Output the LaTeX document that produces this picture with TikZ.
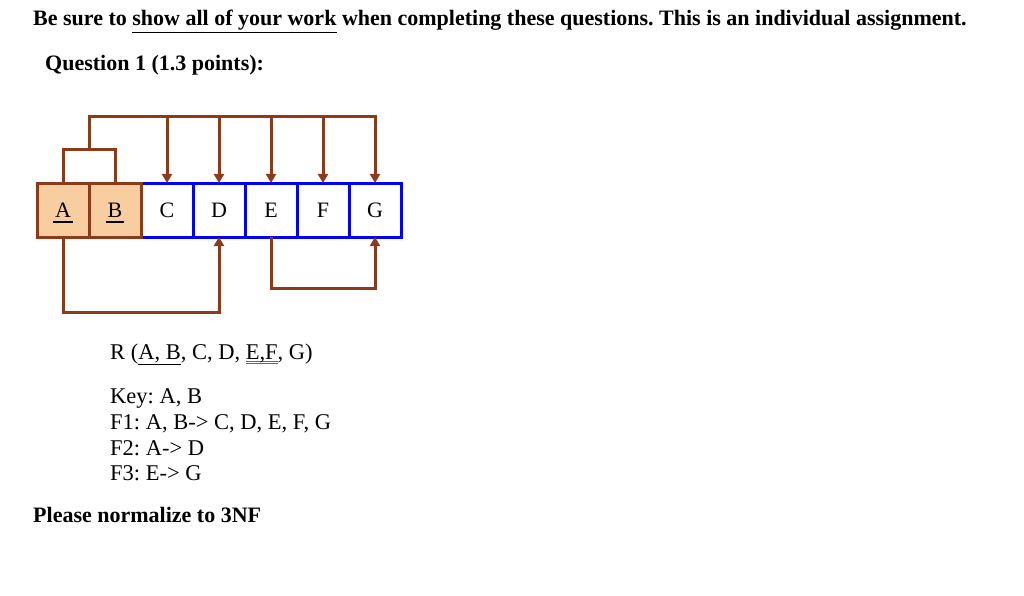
\documentclass[tikz,border=0pt]{standalone}
\usepackage{fontspec}
\setmainfont{Liberation Serif}
\usepackage{xcolor}
\usepackage{tikz}
\usetikzlibrary{arrows.meta, positioning}

\definecolor{fdbrown}{RGB}{140,58,24}
\definecolor{keyfill}{RGB}{248,206,160}
\definecolor{spellblue}{RGB}{70,100,220}

\newcommand{\spellchk}[1]{\leavevmode\setbox0\hbox{#1}%
  \rlap{\color{spellblue}\raisebox{-3pt}{\rule{\wd0}{0.6pt}}}%
  \rlap{\color{spellblue}\raisebox{-5pt}{\rule{\wd0}{0.6pt}}}\box0}
\newcommand{\keyul}[1]{\leavevmode\setbox0\hbox{#1}%
  \rlap{\smash{\hspace*{-2pt}\raisebox{-6pt}{\rule{\dimexpr\wd0+4pt\relax}{1.8pt}}}}\box0}

\frenchspacing
\begin{document}
\begin{tikzpicture}[x=1pt, y=1pt, node distance=0pt, >={Triangle[width=10pt,length=9pt]},
    attr/.style={draw=blue, line width=3pt, outer sep=0pt, minimum width=52pt, minimum height=54pt,
      inner sep=0pt, font=\fontsize{22}{26}\selectfont},
    keyattr/.style={attr, draw=fdbrown, fill=keyfill},
    fd/.style={draw=fdbrown, line width=3pt},
    txt/.style={anchor=base west, inner sep=0pt, font=\fontsize{22.5}{26}\selectfont},
    boldtxt/.style={txt, font=\fontsize{22}{26}\selectfont\bfseries}]
  \useasboundingbox (0,0) rectangle (1024,-596);

  % Heading
  \node[boldtxt] (head) at (33,-26)
    {Be sure to \underline{show all of your work} when completing these questions. This is an individual assignment.};
  \node[boldtxt] (quest) at (45,-71) {Question 1 (1.3 points):};

  % Attributes
  \node[attr] (c) at (167,-210) {C};
  \node[attr, right=of c] (d) {D};
  \node[attr, right=of d] (e) {E};
  \node[attr, right=of e] (f) {F};
  \node[attr, right=of f] (g) {G};
  \node[keyattr, left=of c] (b) {\keyul{B}};
  \node[keyattr, left=of b] (a) {\keyul{A}};

  % F1: A, B -> C, D, E, F, G
  \coordinate[above=33pt of a.north east] (ab);
  \coordinate[above=66pt of a.north east] (top);
  \draw[fd] (a.north) |- (ab) -| (b.north);
  \draw[fd, ->] (ab) -- (top) -| (g.north);
  \foreach \n in {c,d,e,f}
    \draw[fd, ->] (top -| \n.north) -- (\n.north);

  % F2: A -> D
  \coordinate[below=75pt of a.south] (abot);
  \draw[fd, ->] (a.south) -- (abot) -| (d.south);

  % F3: E -> G
  \coordinate[below=51pt of e.south] (ebot);
  \draw[fd, ->] (e.south) -- (ebot) -| (g.south);

  % Relation and dependencies
  \node[txt] (rel) at (110,-359) {R (\underline{A, B}, C, D, \spellchk{E,F}, G)};
  \node[txt] (key) at (110,-403) {Key: A, B};
  \node[txt] (f1) at (110,-429) {F1: A, B-> C, D, E, F, G};
  \node[txt] (f2) at (110,-455) {F2: A-> D};
  \node[txt] (f3) at (110,-480) {F3: E-> G};

  \node[boldtxt] (task) at (33,-522) {Please normalize to 3NF};
\end{tikzpicture}
\end{document}
